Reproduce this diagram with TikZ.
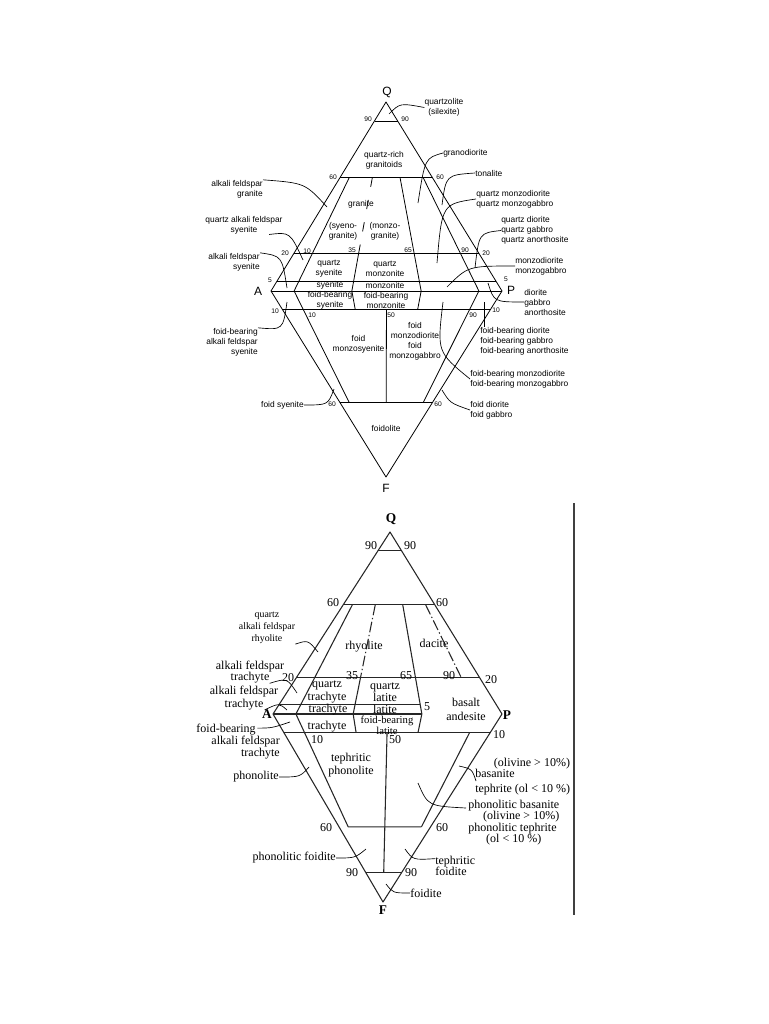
\documentclass[tikz,border=0pt]{standalone}
\usepackage{fontspec}
\setmainfont{Liberation Serif}
\setsansfont{Liberation Sans}
\usetikzlibrary{calc}
\tikzset{
  srock/.style={font=\sffamily\fontsize{6.3}{7.5}\selectfont,align=center,inner sep=0pt},
  snum/.style={font=\sffamily\fontsize{5}{5}\selectfont,inner sep=0pt},
  sapex/.style={font=\sffamily\fontsize{9}{9}\selectfont,inner sep=0pt},
  rrock/.style={font=\fontsize{9}{#1}\selectfont,align=center,inner sep=0pt},
  rrock/.default=9.75,
  rsmall/.style={font=\fontsize{7.4}{9}\selectfont,align=center,inner sep=0pt},
  rnum/.style={font=\fontsize{9}{9}\selectfont,inner sep=0pt},
  rapex/.style={font=\bfseries\fontsize{10}{10}\selectfont,inner sep=0pt},
  leader/.style={line width=0.5pt},
  dashdot/.style={dash pattern=on 8pt off 2pt on 1pt off 2pt},
}
\begin{document}
\begin{tikzpicture}[x=0.75pt,y=-0.75pt,line join=round]
\useasboundingbox (0,0) rectangle (768,1024);

% plutonic QAPF
\coordinate (tQ) at (386,102);
\coordinate (tA) at (271,291);
\coordinate (tP) at (502,291);
\coordinate (tF) at (386,477);
\foreach \r in {10,35,50,65,90}
  \coordinate (tR\r) at ($(tA)!\r/100!(tP)$);

\begin{scope}[line width=0.6pt]
\draw (tQ) -- (tA) -- (tF) -- (tP) -- cycle;
\draw (tA) -- (tP);
\foreach \q in {0.9,0.6,0.2,0.05}
  \draw ($(tA)!\q!(tQ)$) -- ($(tP)!\q!(tQ)$);
\foreach \f in {0.1,0.6}
  \draw ($(tA)!\f!(tF)$) -- ($(tP)!\f!(tF)$);
\draw ($(tR10)!0.6!(tQ)$) -- (tR10) -- ($(tR10)!0.6!(tF)$);
\draw[dash pattern=on 7pt off 10pt] ($(tR35)!0.6!(tQ)$) -- ($(tR35)!0.2!(tQ)$);
\draw ($(tR35)!0.2!(tQ)$) -- (tR35) -- ($(tR35)!0.1!(tF)$);
\draw ($(tR65)!0.6!(tQ)$) -- (tR65) -- ($(tR65)!0.1!(tF)$);
\draw ($(tR90)!0.6!(tQ)$) -- (tR90) -- ($(tR90)!0.6!(tF)$);
\draw ($(tR50)!0.1!(tF)$) -- ($(tR50)!0.6!(tF)$);
\end{scope}

\node[sapex] (tq) at (387,92) {Q};
\node[sapex] (ta) at (258,291) {A};
\node[sapex] (tp) at (511,290) {P};
\node[sapex] (tf) at (386,488) {F};

\foreach \x/\y/\t [count=\i] in {368/119/90, 405/119/90, 333/177/60, 440/177/60,
    285/253/20, 307/251/10, 352/250/35, 408/250/65, 465/250/90, 486/253/20,
    270/280/5, 506/279/5, 275/311/10, 312/315/10, 391/315/50, 473/315/90,
    496/310/10, 332/404/60, 438/404/60}
  \node[snum] (tn\i) at (\x,\y) {\t};

\node[srock] (qzl) at (444,107.5) {quartzolite\\(silexite)};
\node[srock] (qrg) at (384,160) {quartz-rich\\granitoids};
\node[srock] (gr) at (361,204) {granite};
\node[srock] (syg) at (343,231) {(syeno-\\granite)};
\node[srock] (mzg) at (385,231) {(monzo-\\granite)};
\node[srock] (qsy) at (329,269) {quartz\\syenite};
\node[srock] (qmz) at (385,269) {quartz\\monzonite};
\node[srock] (sy) at (330,285) {syenite};
\node[srock] (mz) at (385,285) {monzonite};
\node[srock] (fsy) at (330,300) {foid-bearing\\syenite};
\node[srock] (fmz) at (386,300) {foid-bearing\\monzonite};
\node[srock] (fmsy) at (358.5,344) {foid\\monzosyenite};
\node[srock] (fmd) at (415,341.5) {foid\\monzodiorite\\foid\\monzogabbro};
\node[srock] (fdl) at (386,428) {foidolite};

\node[srock,align=right,anchor=east] (afg) at (263,189) {alkali feldspar\\granite};
\node[srock] (qafs) at (244,225.3) {quartz alkali feldspar\\syenite};
\node[srock,align=right,anchor=east] (afs) at (260,262) {alkali feldspar\\syenite};
\node[srock,align=right,anchor=east] (fbafs) at (258,342) {foid-bearing\\alkali feldspar\\syenite};
\node[srock,anchor=east] (fsye) at (304,405) {foid syenite};

\node[srock,anchor=west] (gd) at (443,153) {granodiorite};
\node[srock,anchor=west] (ton) at (475,173) {tonalite};
\node[srock,align=left,anchor=west] (qmd) at (476,199) {quartz monzodiorite\\quartz monzogabbro};
\node[srock,align=left,anchor=west] (qdi) at (501,230.5) {quartz diorite\\quartz gabbro\\quartz anorthosite};
\node[srock,align=left,anchor=west] (mzd) at (515,266) {monzodiorite\\monzogabbro};
\node[srock,align=left,anchor=west] (dio) at (524,302) {diorite\\gabbro\\anorthosite};
\node[srock,align=left,anchor=west] (fbd) at (480,341) {foid-bearing diorite\\foid-bearing gabbro\\foid-bearing anorthosite};
\node[srock,align=left,anchor=west] (fbm) at (470,379) {foid-bearing monzodiorite\\foid-bearing monzogabbro};
\node[srock,align=left,anchor=west] (fdi) at (470,410) {foid diorite\\foid gabbro};

\draw[leader] (qzl.west) .. controls (400,103) .. (389,114);
\draw[leader] (afg.north east) .. controls (305,183) .. (327,207);
\draw[leader] (qafs.-20) .. controls (290,232) .. (303,260);
\draw[leader] (afs.north east) .. controls (282,256) .. (287,288);
\draw[leader] (fbafs.north east) .. controls (283,330) .. (287,302);
\draw[leader] (fsye.east) .. controls (328,405) .. (334,389);
\draw[leader] (gd.west) .. controls (425,158) .. (418,203);
\draw[leader] (ton.west) .. controls (446,175) .. (442,205);
\draw[leader] (qmd.west) .. controls (442,204) .. (437,263);
\draw[leader] (qdi.west) .. controls (479,233) .. (475,268);
\draw[leader] (mzd.west) .. controls (468,266) .. (447,287);
\draw[leader] (dio.west) .. controls (494,302) .. (488,283);
\draw[leader] ([xshift=3pt]fbd.north west) -- (484,302);
\draw[leader] (fbm.west) .. controls (437,352) .. (443,302);
\draw[leader] (fdi.west) .. controls (450,403) .. (442,390);

% volcanic QAPF
\coordinate (bQ) at (390,532);
\coordinate (bA) at (273,714);
\coordinate (bP) at (502,714);
\coordinate (bF) at (383,902);
\foreach \r in {10,35,50,65,90}
  \coordinate (bR\r) at ($(bA)!\r/100!(bP)$);

\begin{scope}[line width=0.8pt,draw=black!85]
\draw (bQ) -- (bA) -- (bF) -- (bP) -- cycle;
\draw (bA) -- (bR65);
\foreach \q in {0.9,0.6,0.2}
  \draw ($(bA)!\q!(bQ)$) -- ($(bP)!\q!(bQ)$);
\draw ($(bA)!0.05!(bQ)$) -- ($(bR65)!0.05!(bQ)$);
\foreach \f in {0.1,0.845}
  \draw ($(bA)!\f!(bF)$) -- ($(bP)!\f!(bF)$);
\draw ($(bR10)!0.6!(bF)$) -- ($(bR90)!0.6!(bF)$);
\draw ($(bR10)!0.6!(bQ)$) -- (bR10) -- ($(bR10)!0.6!(bF)$);
\draw[dashdot] ($(bR35)!0.6!(bQ)$) -- ($(bR35)!0.2!(bQ)$);
\draw ($(bR35)!0.2!(bQ)$) -- (bR35) -- ($(bR35)!0.1!(bF)$);
\draw ($(bR65)!0.6!(bQ)$) -- (bR65) -- ($(bR65)!0.1!(bF)$);
\draw[dashdot] ($(bR90)!0.6!(bQ)$) -- ($(bR90)!0.2!(bQ)$);
\draw ($(bR90)!0.1!(bF)$) -- ($(bR90)!0.6!(bF)$);
\draw ($(bR50)!0.1!(bF)$) -- ($(bR50)!0.845!(bF)$);
\end{scope}

\node[rapex] (bq) at (391,519) {Q};
\node[rapex] (ba) at (267,714) {A};
\node[rapex] (bp) at (507,715) {P};
\node[rapex] (bf) at (383,910) {F};

\foreach \x/\y/\t [count=\i] in {371/546/90, 410/546/90, 333/603/60, 442/603/60,
    288/678/20, 352/676/35, 406/676/65, 449/676/90, 491/680/20, 427/707/5,
    317/740/10, 395/740/50, 499/735/10, 326/828/60, 442/828/60, 352/873/90,
    411/873/90}
  \node[rnum] (bn\i) at (\x,\y) {\t};

\node[rrock] (rhy) at (364,647) {rhyolite};
\node[rrock] (dac) at (434,643) {dacite};
\node[rrock=8] (qtr) at (327,692) {quartz\\trachyte};
\node[rrock=8] (qlt) at (385,692) {quartz\\latite};
\node[rrock] (tra) at (328,710) {trachyte};
\node[rrock] (lat) at (385,709) {latite};
\node[rrock] (trb) at (327,727) {trachyte};
\node[rrock=6,font=\fontsize{8}{6}\selectfont] (fblt) at (387,725) {foid-bearing\\latite};
\node[rrock=10.5] (bas) at (466,709) {basalt\\andesite};
\node[rrock] (tph) at (351,765) {tephritic\\phonolite};

\node[rsmall] (qafr) at (267,628) {quartz\\alkali feldspar\\rhyolite};
\node[rrock=8.3] (afta) at (250,672) {alkali feldspar\\trachyte};
\node[rrock=6.8] (aftb) at (244,698) {alkali feldspar\\trachyte};
\node[rrock=8.3,anchor=east] (fbaft) at (280,742)
  {\begin{tabular}{@{}r@{}}foid-bearing\hspace{18pt}\mbox{}\\alkali feldspar\\trachyte\end{tabular}};
\node[rrock,anchor=east] (phl) at (279,777) {phonolite};
\node[rrock,anchor=east] (pfd) at (336,858) {phonolitic foidite};
\node[rrock=8.8,align=left,anchor=west] (tfd) at (435,866) {tephritic\\foidite};
\node[rrock,anchor=west] (fdt) at (410,893) {foidite};
\node[rrock=6.8,anchor=north west] (bst) at (475,758)
  {\begin{tabular}{@{}l@{}}\multicolumn{1}{@{}r@{}}{(olivine > 10\%)}\\ basanite\\[2.5pt] tephrite (ol < 10 \%)\end{tabular}};
\node[rrock=7.5,anchor=north west] (pbs) at (468,800)
  {\begin{tabular}{@{}l@{}}phonolitic basanite\\ \multicolumn{1}{@{}r@{}}{(olivine > 10\%)}\\ phonolitic tephrite\\ \multicolumn{1}{@{}c@{}}{(ol < 10 \%)}\end{tabular}};

\draw[leader] (qafr.south east) .. controls (308,640) .. (318,652);
\draw[leader] (afta.-30) .. controls (287,678) .. (297,693);
\draw[leader] (aftb.-30) .. controls (279,703) .. (287,710);
\draw[leader] ([xshift=-17pt,yshift=-3pt]fbaft.north east) .. controls (272,728) .. (290,722);
\draw[leader] (phl.east) .. controls (300,777) .. (309,767);
\draw[leader] (459,766) .. controls (472,769) .. (476,781);
\draw[leader] (418,783) .. controls (428,806) .. (466,808);
\draw[leader] (pfd.east) .. controls (355,858) .. (366,849);
\draw[leader] (tfd.160) .. controls (413,860) .. (405,849);
\draw[leader] (fdt.west) .. controls (393,893) .. (386,884);

\draw[line width=1.2pt,black!75] (574,503) -- (574,915);
\end{tikzpicture}
\end{document}
